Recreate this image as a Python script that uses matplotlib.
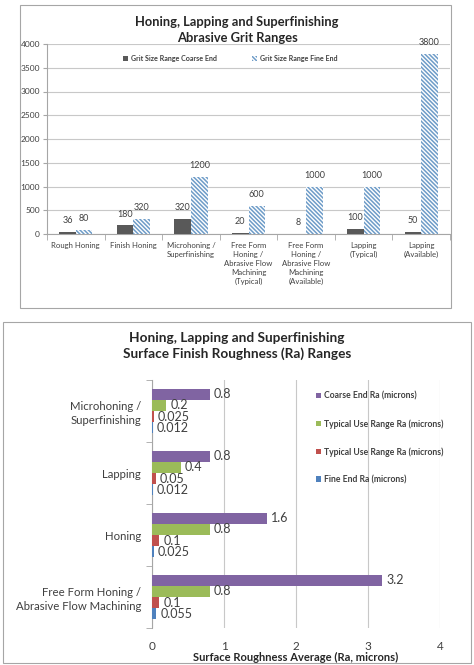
import matplotlib
matplotlib.use("Agg")
import matplotlib.pyplot as plt
from matplotlib.patches import Rectangle
import numpy as np

plt.rcParams['font.family'] = ['Lato', 'DejaVu Sans']
plt.rcParams['hatch.linewidth'] = 1.1

# ---- data: top chart ----
grit_categories = ["Rough Honing", "Finish Honing", "Microhoning /\nSuperfinishing",
                   "Free Form\nHoning /\nAbrasive Flow\nMachining\n(Typical)",
                   "Free Form\nHoning /\nAbrasive Flow\nMachining\n(Available)",
                   "Lapping\n(Typical)", "Lapping\n(Available)"]
grit_coarse = [36, 180, 320, 20, 8, 100, 50]
grit_fine = [80, 320, 1200, 600, 1000, 1000, 3800]
grit_yticks = [0, 500, 1000, 1500, 2000, 2500, 3000, 3500, 4000]

# ---- data: bottom chart (top-to-bottom order) ----
ra_categories = ["Microhoning /\nSuperfinishing", "Lapping", "Honing",
                 "Free Form Honing /\nAbrasive Flow Machining"]
ra_coarse = [0.8, 0.8, 1.6, 3.2]
ra_typical_hi = [0.2, 0.4, 0.8, 0.8]
ra_typical_lo = [0.025, 0.05, 0.1, 0.1]
ra_fine = [0.012, 0.012, 0.025, 0.055]
ra_series_names = ["Coarse End Ra (microns)", "Typical Use Range Ra (microns)",
                   "Typical Use Range Ra (microns)", "Fine End Ra (microns)"]
ra_xticks = [0, 1, 2, 3, 4]

W, H = 474, 665
fig = plt.figure(figsize=(W / 100, H / 100), dpi=100)
fig.patch.set_facecolor('white')

def fx(px):
    return px / W

def fy(py):
    return 1 - py / H

# frames
fig.patches.append(Rectangle((fx(20), fy(308)), fx(451) - fx(20), fy(5) - fy(308),
                             transform=fig.transFigure, fill=False, edgecolor='#A6A6A6', lw=0.8))
fig.patches.append(Rectangle((fx(3), fy(663)), fx(471) - fx(3), fy(322) - fy(663),
                             transform=fig.transFigure, fill=False, edgecolor='#A6A6A6', lw=0.8))

grid_c = '#C8C8C8'
text_c = '#404040'

# ---------------- top chart ----------------
ax1 = fig.add_axes([fx(47), fy(234), fx(450) - fx(47), fy(44) - fy(234)])
n = len(grit_categories)
x = np.arange(n)
bw = 0.29
b1 = ax1.bar(x - bw / 2, grit_coarse, bw, color='#595959', label='Grit Size Range Coarse End', zorder=3)
b2 = ax1.bar(x + bw / 2, grit_fine, bw, color='white', edgecolor='#6E9CC8', hatch='\\' * 8,
             linewidth=0, label='Grit Size Range Fine End', zorder=3)
ax1.bar_label(b1, labels=[str(v) for v in grit_coarse], padding=5, fontsize=6.5, color=text_c)
ax1.bar_label(b2, labels=[str(v) for v in grit_fine], padding=5, fontsize=6.5, color=text_c)
ax1.set_xlim(-0.5, n - 0.5)
ax1.set_ylim(0, 4000)
ax1.set_yticks(grit_yticks)
ax1.set_yticklabels([str(t) for t in grit_yticks], fontsize=6, color=text_c)
ax1.set_xticks(x)
ax1.set_xticklabels(grit_categories, fontsize=5.6, color=text_c, linespacing=1.3)
ax1.set_xticks(np.arange(n + 1) - 0.5, minor=True)
ax1.tick_params(axis='x', which='major', length=0, pad=6)
ax1.tick_params(axis='x', which='minor', length=4, color='#A6A6A6')
ax1.tick_params(axis='y', length=3, color='#A6A6A6', pad=2)
ax1.grid(axis='y', color=grid_c, lw=0.8, zorder=0)
for s in ['top', 'right']:
    ax1.spines[s].set_visible(False)
for s in ['left', 'bottom']:
    ax1.spines[s].set_color('#A6A6A6')
ax1.legend(loc='upper center', bbox_to_anchor=(0.454, 0.975), ncol=2, frameon=False,
           prop={'weight': 'bold', 'size': 5.1}, handlelength=0.7, handleheight=0.7,
           columnspacing=5.0, handletextpad=0.4, labelcolor=text_c)
fig.text(0.5, fy(30), "Honing, Lapping and Superfinishing\nAbrasive Grit Ranges",
         ha='center', va='center', fontsize=9.3, fontweight='bold', color='#262626',
         linespacing=1.3)

# ---------------- bottom chart ----------------
ax2 = fig.add_axes([fx(152), fy(628), fx(440) - fx(152), fy(380) - fy(628)])
m = len(ra_categories)
y = np.arange(m)[::-1].astype(float)
bh = 0.18
series = [ra_coarse, ra_typical_hi, ra_typical_lo, ra_fine]
colors = ['#8064A2', '#9BBB59', '#C0504D', '#4F81BD']
offsets = [1.5, 0.5, -0.5, -1.5]
for vals, col, off, name in zip(series, colors, offsets, ra_series_names):
    bars = ax2.barh(y + off * bh, vals, bh, color=col, label=name, zorder=3)
    ax2.bar_label(bars, labels=[str(v) for v in vals], padding=3, fontsize=9, color=text_c)
ax2.set_xlim(0, 4)
ax2.set_ylim(-0.5, m - 0.5)
ax2.set_xticks(ra_xticks)
ax2.set_xticklabels([str(t) for t in ra_xticks], fontsize=8.5, color=text_c)
ax2.set_yticks(y)
ax2.set_yticklabels(ra_categories, fontsize=8.2, color=text_c, linespacing=1.35)
ax2.set_yticks(np.arange(m + 1) - 0.5, minor=True)
ax2.tick_params(axis='y', which='major', length=0, pad=8)
ax2.tick_params(axis='y', which='minor', length=4, color='#A6A6A6')
ax2.tick_params(axis='x', length=0, pad=9)
ax2.grid(axis='x', color=grid_c, lw=0.8, zorder=0)
for s in ['top', 'right', 'bottom']:
    ax2.spines[s].set_visible(False)
ax2.spines['left'].set_color('#A6A6A6')
ax2.set_xlabel("Surface Roughness Average (Ra, microns)", fontsize=8, fontweight='bold',
               color='#262626', labelpad=0)
leg_x = (fx(308) - fx(152)) / (fx(440) - fx(152))
ax2.legend(loc='upper left', bbox_to_anchor=(leg_x, 0.985),
           frameon=False, prop={'weight': 'bold', 'size': 6.2}, handlelength=0.6, handleheight=0.6,
           labelspacing=2.15, handletextpad=0.4, labelcolor=text_c)
fig.text(0.5, fy(346), "Honing, Lapping and Superfinishing\nSurface Finish Roughness (Ra) Ranges",
         ha='center', va='center', fontsize=9.8, fontweight='bold', color='#262626',
         linespacing=1.3)

fig.savefig("out.png", dpi=100, facecolor='white')
